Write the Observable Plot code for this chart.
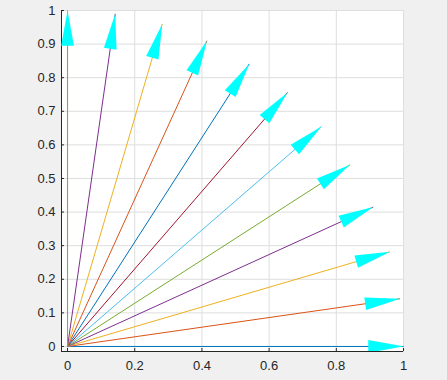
<!DOCTYPE html>
<html>
<head>
<meta charset="utf-8">
<script src="https://cdn.jsdelivr.net/npm/d3@7"></script>
<script src="https://cdn.jsdelivr.net/npm/@observablehq/plot@0.6"></script>
<style>
  html, body { margin: 0; padding: 0; background: #f0f0f0; }
  #chart svg { display: block; }
</style>
</head>
<body>
<div id="chart"></div>
<script>
// Arrow end points, starting at origin
const endX = [1.000, 0.990, 0.960, 0.910, 0.841, 0.756, 0.655, 0.541, 0.415, 0.282, 0.142, 0.000];
const endY = [0.000, 0.142, 0.282, 0.415, 0.541, 0.655, 0.756, 0.841, 0.910, 0.960, 0.990, 1.000];
const lineColors = ["#0072BD", "#D95319", "#EDB120", "#7E2F8E", "#77AC30", "#4DBEEE", "#A2142F",
                    "#0072BD", "#D95319", "#EDB120", "#7E2F8E", "#77AC30"];
const headColor = "#00FFFF";
const xTicks = [0, 0.2, 0.4, 0.6, 0.8, 1];
const xTickLabels = ["0", "0.2", "0.4", "0.6", "0.8", "1"];
const yTicks = [0, 0.1, 0.2, 0.3, 0.4, 0.5, 0.6, 0.7, 0.8, 0.9, 1];
const yTickLabels = ["0", "0.1", "0.2", "0.3", "0.4", "0.5", "0.6", "0.7", "0.8", "0.9", "1"];
const xDomain = [-0.018, 1];
const yDomain = [-0.015, 1];

const arrows = endX.map((x, i) => ({i, x0: 0, y0: 0, x, y: endY[i], color: lineColors[i]}));

// arrowhead triangles, derived from the data end points
const headLen = 0.105, headHalf = 0.019;
const heads = [];
arrows.forEach(a => {
  const len = Math.hypot(a.x, a.y);
  const ux = a.x / len, uy = a.y / len;
  const bx = a.x - headLen * ux, by = a.y - headLen * uy;
  heads.push({i: a.i, x: a.x, y: a.y});
  heads.push({i: a.i, x: bx - headHalf * uy, y: by + headHalf * ux});
  heads.push({i: a.i, x: bx + headHalf * uy, y: by - headHalf * ux});
  heads.push({i: a.i, x: a.x, y: a.y});
});

const tickLenY = 3 / 335.7, tickLenX = 3 / 336.6;
const axisColor = "#262626";

const chart = Plot.plot({
  width: 447,
  height: 380,
  marginLeft: 61,
  marginRight: 44,
  marginTop: 10,
  marginBottom: 29,
  style: {background: "#f0f0f0", fontFamily: "'Liberation Sans', Arial, sans-serif", fontSize: "13px", color: axisColor},
  x: {domain: xDomain, ticks: xTicks, tickFormat: (d) => xTickLabels[xTicks.indexOf(d)]},
  y: {domain: yDomain, ticks: yTicks, tickFormat: (d) => yTickLabels[yTicks.indexOf(d)]},
  marks: [
    Plot.frame({fill: "white", stroke: "#d4d4d4"}),
    Plot.gridX(xTicks, {stroke: "#dedede", strokeOpacity: 1}),
    Plot.gridY(yTicks, {stroke: "#dedede", strokeOpacity: 1}),
    Plot.ruleY([yDomain[0]], {stroke: axisColor}),
    Plot.ruleX([xDomain[0]], {stroke: axisColor}),
    Plot.ruleX(xTicks, {y1: yDomain[0], y2: yDomain[0] + tickLenY, stroke: axisColor}),
    Plot.ruleY(yTicks, {x1: xDomain[0], x2: xDomain[0] + tickLenX, stroke: axisColor}),
    Plot.axisX(xTicks, {tickSize: 0, tickPadding: 9, tickFormat: (d) => xTickLabels[xTicks.indexOf(d)], fill: axisColor}),
    Plot.axisY(yTicks, {tickSize: 0, tickPadding: 6, tickFormat: (d) => yTickLabels[yTicks.indexOf(d)], fill: axisColor}),
    Plot.link(arrows, {x1: "x0", y1: "y0", x2: "x", y2: "y", stroke: "color", strokeWidth: 1}),
    Plot.line(heads, {x: "x", y: "y", z: "i", fill: headColor, stroke: "none", clip: true})
  ]
});
document.getElementById("chart").appendChild(chart);
</script>
</body>
</html>
